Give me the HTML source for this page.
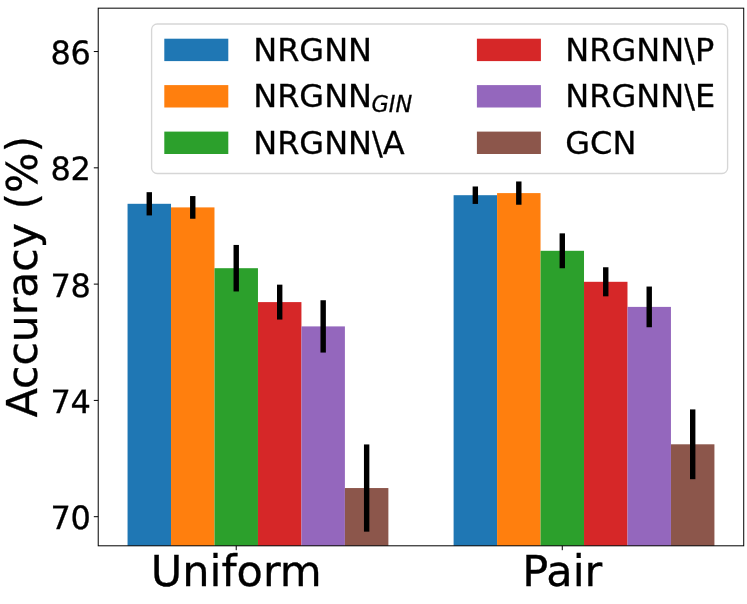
<!DOCTYPE html>
<html><head><meta charset="utf-8"><title>Accuracy chart</title>
<style>
html,body{margin:0;padding:0;background:#fff;}
svg{display:block;}
text{font-family:"DejaVu Sans","Liberation Sans",sans-serif;fill:#000;stroke:#000;stroke-width:0.3px;}
.t{font-size:32px;text-rendering:geometricPrecision;letter-spacing:-0.4px;}
.g{font-size:32px;}
.l{font-size:43.05px;}
.y{font-size:42.55px;}
.s{font-size:22.4px;font-style:italic;}
</style></head><body>
<svg width="747" height="604" viewBox="0 0 747 604">
<rect x="0" y="0" width="747" height="604" fill="#ffffff"/>

<rect x="127.55" y="203.80" width="43.46" height="342.00" fill="#1f77b4"/>
<rect x="453.60" y="195.20" width="43.46" height="350.60" fill="#1f77b4"/>
<rect x="171.02" y="207.40" width="43.46" height="338.40" fill="#ff7f0e"/>
<rect x="497.07" y="193.10" width="43.46" height="352.70" fill="#ff7f0e"/>
<rect x="214.50" y="268.20" width="43.46" height="277.60" fill="#2ca02c"/>
<rect x="540.55" y="250.80" width="43.46" height="295.00" fill="#2ca02c"/>
<rect x="257.97" y="302.10" width="43.46" height="243.70" fill="#d62728"/>
<rect x="584.02" y="281.80" width="43.46" height="264.00" fill="#d62728"/>
<rect x="301.44" y="326.40" width="43.46" height="219.40" fill="#9467bd"/>
<rect x="627.49" y="306.90" width="43.46" height="238.90" fill="#9467bd"/>
<rect x="344.92" y="488.05" width="43.46" height="57.75" fill="#8c564b"/>
<rect x="670.97" y="444.30" width="43.46" height="101.50" fill="#8c564b"/>
<rect x="146.58" y="192.17" width="5.40" height="23.26" fill="#000"/>
<rect x="472.63" y="186.48" width="5.40" height="17.44" fill="#000"/>
<rect x="190.05" y="196.06" width="5.40" height="22.68" fill="#000"/>
<rect x="516.10" y="181.47" width="5.40" height="23.26" fill="#000"/>
<rect x="233.53" y="244.94" width="5.40" height="46.52" fill="#000"/>
<rect x="559.58" y="233.36" width="5.40" height="34.89" fill="#000"/>
<rect x="277.00" y="284.66" width="5.40" height="34.89" fill="#000"/>
<rect x="603.05" y="267.26" width="5.40" height="29.07" fill="#000"/>
<rect x="320.47" y="300.24" width="5.40" height="52.33" fill="#000"/>
<rect x="646.52" y="286.55" width="5.40" height="40.70" fill="#000"/>
<rect x="363.95" y="444.44" width="5.40" height="87.22" fill="#000"/>
<rect x="690.00" y="409.41" width="5.40" height="69.77" fill="#000"/>
<rect x="98.22" y="8.17" width="645.50" height="537.63" fill="none" stroke="#000" stroke-width="1.0"/>
<line x1="93.82" y1="516.70" x2="98.22" y2="516.70" stroke="#000" stroke-width="1.0"/>
<text class="t" x="90.4" y="529.20" text-anchor="end">70</text>
<line x1="93.82" y1="400.41" x2="98.22" y2="400.41" stroke="#000" stroke-width="1.0"/>
<text class="t" x="90.4" y="412.91" text-anchor="end">74</text>
<line x1="93.82" y1="284.12" x2="98.22" y2="284.12" stroke="#000" stroke-width="1.0"/>
<text class="t" x="90.4" y="296.62" text-anchor="end">78</text>
<line x1="93.82" y1="167.84" x2="98.22" y2="167.84" stroke="#000" stroke-width="1.0"/>
<text class="t" x="90.4" y="180.34" text-anchor="end">82</text>
<line x1="93.82" y1="51.55" x2="98.22" y2="51.55" stroke="#000" stroke-width="1.0"/>
<text class="t" x="90.4" y="64.05" text-anchor="end">86</text>
<line x1="236.23" y1="545.80" x2="236.23" y2="550.20" stroke="#000" stroke-width="1.0"/>
<text class="l" x="236.23" y="585.5" text-anchor="middle">Uniform</text>
<line x1="562.28" y1="545.80" x2="562.28" y2="550.20" stroke="#000" stroke-width="1.0"/>
<text class="l" x="562.28" y="585.5" text-anchor="middle">Pair</text>
<text class="y" transform="translate(37.4,276.6) rotate(-90)" text-anchor="middle">Accuracy (%)</text>
<rect x="151.6" y="24.0" width="576" height="149.5" rx="5.6" ry="5.6" fill="#fff" fill-opacity="0.8" stroke="#ccc" stroke-opacity="0.8" stroke-width="1.33"/>
<rect x="164.30" y="38.70" width="64" height="22.4" fill="#1f77b4"/>
<text class="g" x="253.20" y="61.10">NRGNN</text>
<rect x="164.30" y="85.10" width="64" height="22.4" fill="#ff7f0e"/>
<text class="g" x="253.20" y="107.40">NRGNN<tspan class="s" dx="-0.6" dy="4.3">GIN</tspan></text>
<rect x="164.30" y="131.60" width="64" height="22.4" fill="#2ca02c"/>
<text class="g" x="253.20" y="153.80">NRGNN\A</text>
<rect x="476.90" y="38.70" width="64" height="22.4" fill="#d62728"/>
<text class="g" x="565.30" y="61.10">NRGNN\P</text>
<rect x="476.90" y="85.10" width="64" height="22.4" fill="#9467bd"/>
<text class="g" x="565.30" y="107.40">NRGNN\E</text>
<rect x="476.90" y="131.60" width="64" height="22.4" fill="#8c564b"/>
<text class="g" x="565.30" y="153.80">GCN</text>
</svg>
</body></html>
